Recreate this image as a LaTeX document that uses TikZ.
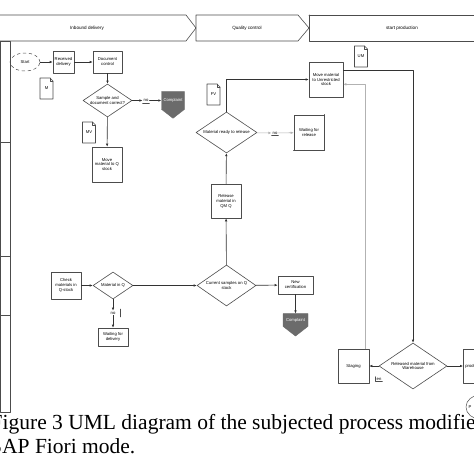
\documentclass[tikz,border=0pt]{standalone}
\usepackage{fontspec}
\setmainfont{Liberation Serif}
\newfontfamily\diafont{Liberation Sans}
\usepackage{xcolor}
\usetikzlibrary{arrows.meta,shapes.geometric,shapes.symbols,calc}
\definecolor{boxgray}{rgb}{0.3,0.3,0.3}
\definecolor{linegray}{rgb}{0.2,0.2,0.2}
\definecolor{softgray}{rgb}{0.7,0.7,0.7}
\definecolor{compgray}{rgb}{0.42,0.42,0.42}
\newcommand{\tinyfont}{\diafont\fontsize{4.2}{4.9}\selectfont}
\newcommand{\headfont}{\diafont\fontsize{4.6}{5.4}\selectfont}
\tikzset{
    box/.style = {draw=boxgray, line width=0.6pt, fill=white, inner sep=0pt, align=center, font=\tinyfont},
    decision/.style = {diamond, draw=boxgray, line width=0.6pt, fill=white, inner sep=0pt},
    lbl/.style = {font=\tinyfont, inner sep=1pt, align=center},
    arr/.style = {draw=linegray, line width=0.6pt, -{Latex[length=3pt,width=2.6pt]}},
    softarr/.style = {draw=softgray, line width=0.6pt, -{Latex[length=3pt,width=2.6pt]}},
    complaint/.style = {signal, signal to=south, signal from=nowhere, signal pointer angle=104,
        fill=compgray, draw=compgray, text=white, font=\tinyfont, inner sep=0pt},
    docicon/.pic = {
    \draw[boxgray, line width=0.6pt, fill=white] (-6.5,-10.5) -- (3.5,-10.5) -- (6.5,-7.5) -- (6.5,10.5) -- (-6.5,10.5) -- cycle;
    \draw[boxgray, line width=0.4pt] (3.5,-10.5) -- (3.5,-7.5) -- (6.5,-7.5);
    \node[font=\tinyfont] at (0,0) {#1};
    }
}
\begin{document}
\begin{tikzpicture}[x=1pt, y=-1pt, line cap=round, line join=round]
\useasboundingbox (0,0) rectangle (474,474);

\draw[boxgray, line width=0.6pt] (-5,15) -- (186,15) -- (196,28) -- (186,41) -- (-5,41);
\draw[boxgray, line width=0.6pt] (196,15) -- (298,15) -- (309,28) -- (298,41) -- (196,41) -- cycle;
\draw[boxgray, line width=0.6pt] (309,15) -- (480,15);
\draw[boxgray, line width=0.6pt] (309,15) -- (309,41) -- (480,41);
\node[font=\headfont] (hin) at (87,28) {Inbound delivery};
\node[font=\headfont] (hqc) at (247,28) {Quality control};
\node[font=\headfont] (hsp) at (402,28) {start production};

\draw[boxgray, line width=0.6pt] (0,41) rectangle (10,412);
\draw[boxgray, line width=0.6pt] (0,142) -- (10,142);
\draw[boxgray, line width=0.6pt] (0,256) -- (10,256);
\draw[boxgray, line width=0.6pt] (0,315) -- (10,315);

\node[draw=boxgray, dashed, line width=0.5pt, ellipse, minimum width=30, minimum height=18, inner sep=0pt, font=\tinyfont] (start) at (25,62) {Start};
\node[box, minimum width=21, minimum height=22] (recv) at (63.5,62) {Received\\delivery};
\node[box, minimum width=29, minimum height=22] (doccon) at (107.5,62) {Document\\control};
\node[decision, minimum width=49, minimum height=33, label={[lbl]center:{Sample and\\document correct?}}] (chk1) at (107.5,100.5) {};
\node[lbl] (no1) at (146,100.5) {no};
\node[complaint, minimum width=23, minimum height=25] (comp1) at (173,100.5) {Complaint};
\node[box, minimum width=30, minimum height=35] (movq) at (107,164.5) {Move\\material to Q\\stock};
\path (46.5,88.5) pic {docicon=M};
\path (89,132.5) pic {docicon=MV};
\path (213.5,94.5) pic {docicon=FV};
\path (361,56.5) pic {docicon=UM};

\node[decision, minimum width=61, minimum height=41, label={[lbl]center:{Material ready to release}}] (rdy) at (226.5,132.5) {};
\node[lbl] (no2) at (275,133) {no};
\node[box, minimum width=30, minimum height=35] (waitrel) at (309,132.5) {Waiting for\\release};
\draw[boxgray, line width=1.1pt] (waitrel.north east) -- (waitrel.south east) -- (waitrel.south west);
\node[box, minimum width=30, minimum height=34] (rel) at (226,201) {Release\\material in\\QM Q};
\node[box, minimum width=34, minimum height=35] (unr) at (326,79.5) {Move material\\to Unrestricted\\stock};

\node[box, minimum width=30, minimum height=27] (chkq) at (66,285.5) {Check\\materials in\\Q-stock};
\node[decision, minimum width=40, minimum height=27, label={[lbl]center:{Material in Q}}] (matq) at (113,285.5) {};
\node[lbl] (no3) at (113,313) {no};
\node[box, minimum width=30, minimum height=18] (waitdel) at (113,337) {Waiting for\\delivery};
\node[decision, minimum width=59, minimum height=41, label={[lbl]center:{Current samples on Q\\stock}}] (cur) at (226.5,285.5) {};
\node[box, minimum width=35, minimum height=18] (newc) at (295.5,285) {New\\certification};
\node[complaint, minimum width=25, minimum height=20] (comp2) at (295.5,320) {Complaint};

\node[decision, minimum width=68, minimum height=46, label={[lbl]center:{Released material from\\Warehouse}}] (wh) at (413,366) {};
\node[box, minimum width=31, minimum height=34] (stag) at (353.5,366) {Staging};
\node[lbl] (en) at (379,379) {en};
\node[box, anchor=west, minimum width=34, minimum height=34, text width=30, align=left] (prod) at (463,366) {production};
\node[draw=boxgray, line width=0.5pt, ellipse, minimum width=28, minimum height=24, label={[lbl, xshift=-10pt]center:P}] (endp) at (480,407) {};

\draw[arr] (start) -- (recv);
\draw[arr] (recv) -- (doccon);
\draw[arr] (doccon) -- (chk1);
\draw[arr] (chk1) -- (no1);
\draw[arr] (no1) -- (comp1);
\draw[boxgray, line width=0.4pt] (no1.south west) -- (no1.south east);
\draw[arr] (chk1) -- (movq);

\draw[arr] (rdy.north) |- (unr.west);
\draw[softarr] (rdy) -- (no2);
\draw[softarr] (no2) -- (waitrel);
\draw[boxgray, line width=0.4pt] (no2.south west) -- (no2.south east);
\draw[arr] (rel) -- (rdy);
\draw[arr] (cur) -- (rel);

\draw[arr] (chkq) -- (matq);
\draw[arr] (matq) -- (cur);
\draw[arr] (matq) -- (no3);
\draw[arr] (no3) -- (waitdel);
\draw[boxgray, line width=0.4pt] ($(no3.east)+(4,-4)$) -- ($(no3.east)+(4,4)$);
\draw[arr] (cur) -- (newc);
\draw[arr] (newc) -- (comp2);

\draw[arr] ($(unr.north east)+(0,9)$) -| (wh.north);
\draw[softarr] ($(stag.north east)+(-4,0)$) |- ($(unr.south east)+(0,-13)$);
\draw[arr] (wh) -- (stag);
\draw[arr] (wh) -- (prod);
\draw[boxgray, line width=0.4pt] (en.north west) -- (en.south west) -- (en.south east);

\node[anchor=base west, inner sep=0pt, font=\fontsize{21.5}{25}\selectfont] (cap1) at (-9.5,429) {Figure 3 UML diagram of the subjected process modified};
\node[anchor=base west, inner sep=0pt, font=\fontsize{21.5}{25}\selectfont] (cap2) at (-10,453) {SAP Fiori mode.};
\end{tikzpicture}
\end{document}
